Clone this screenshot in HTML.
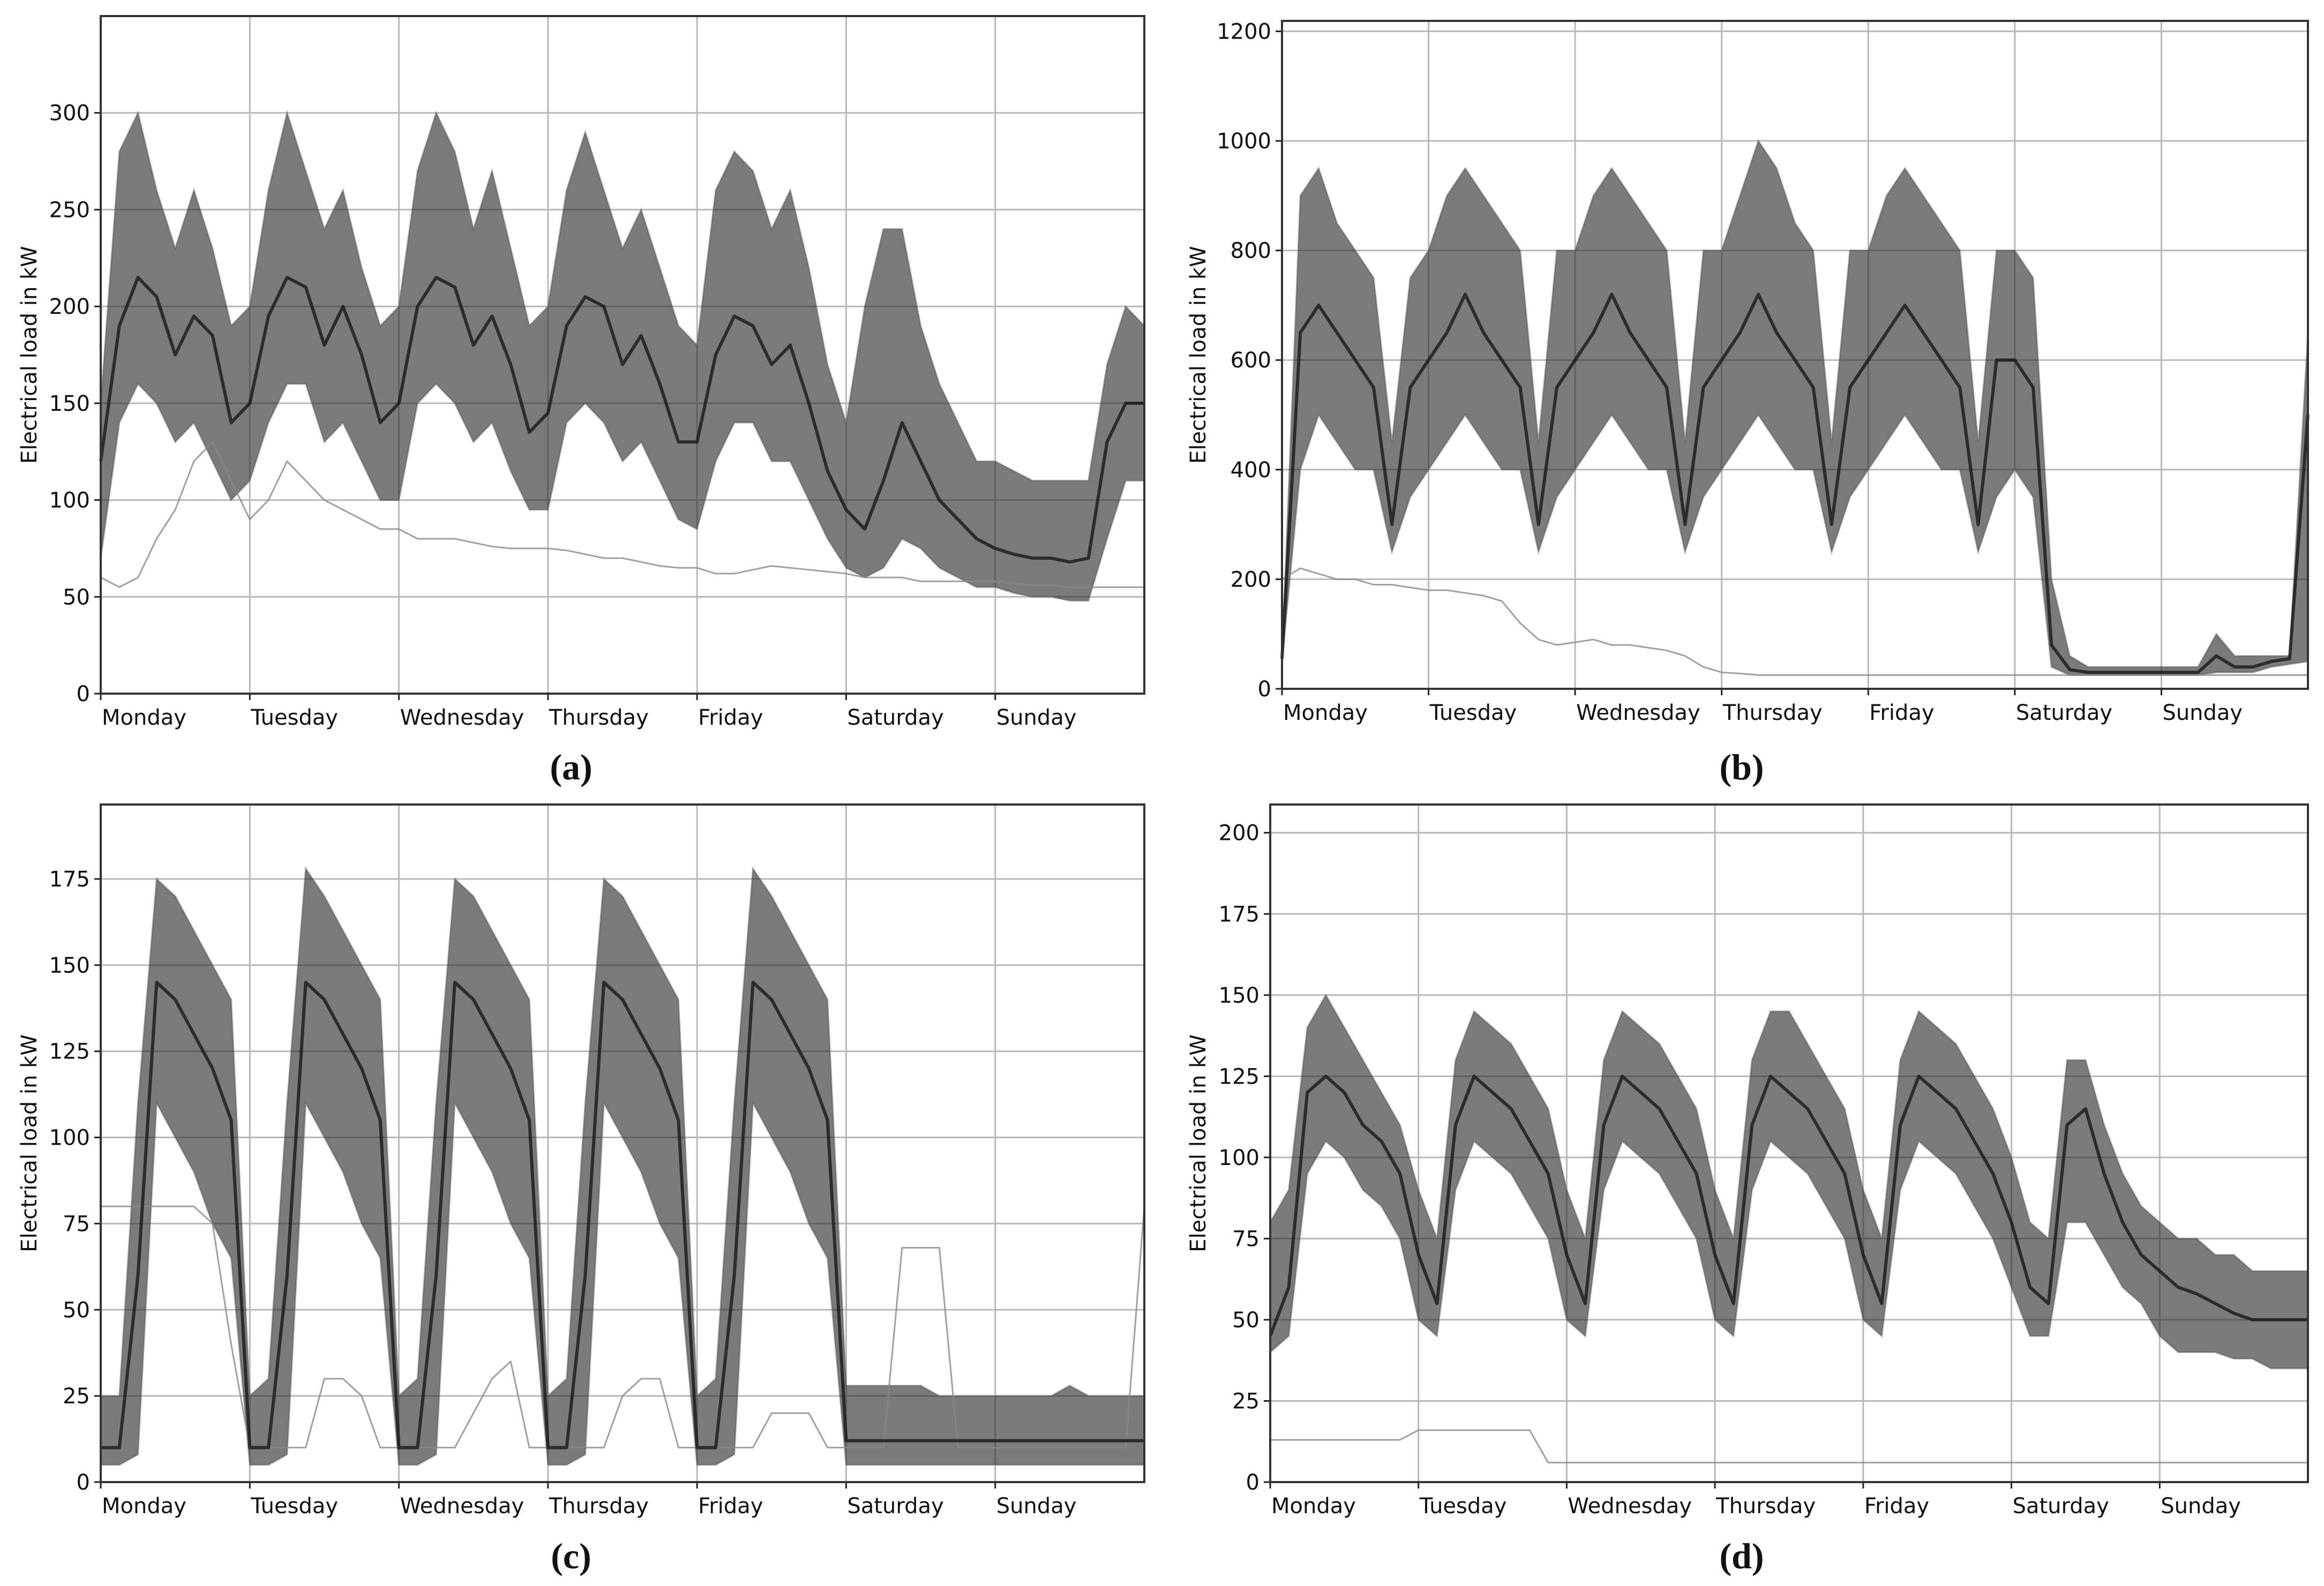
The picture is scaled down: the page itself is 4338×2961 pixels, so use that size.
<!DOCTYPE html>
<html><head><meta charset="utf-8">
<style>
html,body{margin:0;padding:0;background:#fff;}
svg{display:block;}
text{font-family:"DejaVu Sans","Liberation Sans",sans-serif;fill:#111;}
.plabel{font-family:"Liberation Serif",serif;font-weight:bold;font-size:68px;}
</style></head>
<body>
<svg id="fig" width="4338" height="2961" viewBox="0 0 4338 2961" xmlns="http://www.w3.org/2000/svg"></svg>
<script>
// Shared categories
const days = ["Monday","Tuesday","Wednesday","Thursday","Friday","Saturday","Sunday"];
// Samples every 3 hours (8 per day) + final point at day 7
// Panel (a)
const aTicks = [0,50,100,150,200,250,300];
const aMean  = [120,190,215,205,175,195,185,140, 150,195,215,210,180,200,175,140, 150,200,215,210,180,195,170,135, 145,190,205,200,170,185,160,130, 130,175,195,190,170,180,150,115, 95,85,110,140,120,100,90,80, 75,72,70,70,68,70,130,150, 150];
const aUpper = [150,280,300,260,230,260,230,190, 200,260,300,270,240,260,220,190, 200,270,300,280,240,270,230,190, 200,260,290,260,230,250,220,190, 180,260,280,270,240,260,220,170, 140,200,240,240,190,160,140,120, 120,115,110,110,110,110,170,200, 190];
const aLower = [70,140,160,150,130,140,120,100, 110,140,160,160,130,140,120,100, 100,150,160,150,130,140,115,95, 95,140,150,140,120,130,110,90, 85,120,140,140,120,120,100,80, 65,60,65,80,75,65,60,55, 55,52,50,50,48,48,80,110, 110];
const aOut   = [60,55,60,80,95,120,130,110, 90,100,120,110,100,95,90,85, 85,80,80,80,78,76,75,75, 75,74,72,70,70,68,66,65, 65,62,62,64,66,65,64,63, 62,60,60,60,58,58,58,58, 58,57,56,56,55,55,55,55, 55];
// Panel (b)
const bTicks = [0,200,400,600,800,1000,1200];
const bMean  = [55,650,700,650,600,550,300,550, 600,650,720,650,600,550,300,550, 600,650,720,650,600,550,300,550, 600,650,720,650,600,550,300,550, 600,650,700,650,600,550,300,600, 600,550,80,35,30,30,30,30, 30,30,30,60,40,40,50,55, 500];
const bUpper = [60,900,950,850,800,750,450,750, 800,900,950,900,850,800,450,800, 800,900,950,900,850,800,450,800, 800,900,1000,950,850,800,450,800, 800,900,950,900,850,800,450,800, 800,750,200,60,40,40,40,40, 40,40,40,100,60,60,60,60, 650];
const bLower = [50,400,500,450,400,400,250,350, 400,450,500,450,400,400,250,350, 400,450,500,450,400,400,250,350, 400,450,500,450,400,400,250,350, 400,450,500,450,400,400,250,350, 400,350,40,25,25,25,25,25, 25,25,25,30,30,30,40,45, 50];
const bOut   = [200,220,210,200,200,190,190,185, 180,180,175,170,160,120,90,80, 85,90,80,80,75,70,60,40, 30,28,25,25,25,25,25,25, 25,25,25,25,25,25,25,25, 25,25,25,25,25,25,25,25, 25,25,25,25,25,25,25,25, 25];
// Panel (c)
const cTicks = [0,25,50,75,100,125,150,175];
const cMean  = [10,10,60,145,140,130,120,105, 10,10,60,145,140,130,120,105, 10,10,60,145,140,130,120,105, 10,10,60,145,140,130,120,105, 10,10,60,145,140,130,120,105, 12,12,12,12,12,12,12,12, 12,12,12,12,12,12,12,12, 12];
const cUpper = [25,25,110,175,170,160,150,140, 25,30,110,178,170,160,150,140, 25,30,110,175,170,160,150,140, 25,30,110,175,170,160,150,140, 25,30,110,178,170,160,150,140, 28,28,28,28,28,25,25,25, 25,25,25,25,28,25,25,25, 25];
const cLower = [5,5,8,110,100,90,75,65, 5,5,8,110,100,90,75,65, 5,5,8,110,100,90,75,65, 5,5,8,110,100,90,75,65, 5,5,8,110,100,90,75,65, 5,5,5,5,5,5,5,5, 5,5,5,5,5,5,5,5, 5];
const cOut   = [80,80,80,80,80,80,75,40, 10,10,10,10,30,30,25,10, 10,10,10,10,20,30,35,10, 10,10,10,10,25,30,30,10, 10,10,10,10,20,20,20,10, 10,10,10,68,68,68,10,10, 10,10,10,10,10,10,10,10, 80];
// Panel (d)
const dTicks = [0,25,50,75,100,125,150,175,200];
const dMean  = [45,60,120,125,120,110,105,95, 70,55,110,125,120,115,105,95, 70,55,110,125,120,115,105,95, 70,55,110,125,120,115,105,95, 70,55,110,125,120,115,105,95, 80,60,55,110,115,95,80,70, 65,60,58,55,52,50,50,50, 50];
const dUpper = [80,90,140,150,140,130,120,110, 90,75,130,145,140,135,125,115, 90,75,130,145,140,135,125,115, 90,75,130,145,145,135,125,115, 90,75,130,145,140,135,125,115, 100,80,75,130,130,110,95,85, 80,75,75,70,70,65,65,65, 65];
const dLower = [40,45,95,105,100,90,85,75, 50,45,90,105,100,95,85,75, 50,45,90,105,100,95,85,75, 50,45,90,105,100,95,85,75, 50,45,90,105,100,95,85,75, 60,45,45,80,80,70,60,55, 45,40,40,40,38,38,35,35, 35];
const dOut   = [13,13,13,13,13,13,13,13, 16,16,16,16,16,16,16,6, 6,6,6,6,6,6,6,6, 6,6,6,6,6,6,6,6, 6,6,6,6,6,6,6,6, 6,6,6,6,6,6,6,6, 6,6,6,6,6,6,6,6, 6];

const NS = "http://www.w3.org/2000/svg";
const svg = document.getElementById('fig');
function el(tag, attrs, parent){
  const e = document.createElementNS(NS, tag);
  for (const k in attrs) e.setAttribute(k, attrs[k]);
  (parent||svg).appendChild(e);
  return e;
}

function panel(cfg){
  const g = el('g', {});
  
  
  const xs = t => cfg.L + (cfg.R - cfg.L) * t / 7;
  const ys = v => cfg.B - (cfg.B - cfg.T) * v / cfg.ymax;
  const n = cfg.mean.length;
  const tAt = i => 7 * i / (n - 1);
  for (let d = 0; d < 7; d++) {
    const gl = el('line', {x1:xs(d), x2:xs(d), y1:cfg.T, y2:cfg.B, stroke:'#b8b8b8', 'stroke-width':3}, g);
    
    
    const tk = el('line', {x1:xs(d), x2:xs(d), y1:cfg.B, y2:cfg.B+12, stroke:'#222', 'stroke-width':3}, g);
    
    
    const tl = el('text', {x:xs(d)+2, y:cfg.B+58, 'font-size':40}, g);
    tl.textContent = days[d];
    
    
  }
  cfg.ticks.forEach(v => {
    const gl = el('line', {x1:cfg.L, x2:cfg.R, y1:ys(v), y2:ys(v), stroke:'#b8b8b8', 'stroke-width':3}, g);
    
    
    const tk = el('line', {x1:cfg.L-12, x2:cfg.L, y1:ys(v), y2:ys(v), stroke:'#222', 'stroke-width':3}, g);
    
    
    const tl = el('text', {x:cfg.L-20, y:ys(v)+14, 'font-size':40, 'text-anchor':'end'}, g);
    tl.textContent = v;
    
    
  });
  let pts = [];
  for (let i = 0; i < n; i++) pts.push(xs(tAt(i)) + ',' + ys(cfg.upper[i]));
  for (let i = n - 1; i >= 0; i--) pts.push(xs(tAt(i)) + ',' + ys(cfg.lower[i]));
  const band = el('polygon', {points:pts.join(' '), fill:'#2a2a2a', 'fill-opacity':0.62, stroke:'#555', 'stroke-opacity':0.5, 'stroke-width':3}, g);
  
  
  function line(arr, stroke, w, op, name){
    const p = arr.map((v,i) => xs(tAt(i)) + ',' + ys(v)).join(' ');
    const pl = el('polyline', {points:p, fill:'none', stroke:stroke, 'stroke-width':w, 'stroke-opacity':op, 'stroke-linejoin':'round'}, g);
    
    
  }
  line(cfg.out, '#888', 3, 0.8, 'outlier-load-line');
  line(cfg.mean, '#111', 6, 0.75, 'mean-load-line');
  const fr = el('rect', {x:cfg.L, y:cfg.T, width:cfg.R-cfg.L, height:cfg.B-cfg.T, fill:'none', stroke:'#333', 'stroke-width':4}, g);
  
  
  const yt = el('text', {x:0, y:0, 'font-size':40, 'text-anchor':'middle', transform:'translate('+cfg.yTitleX+','+((cfg.T+cfg.B)/2)+') rotate(-90)'}, g);
  yt.textContent = 'Electrical load in kW';
  
  
  const pl = el('text', {x:cfg.labelX, y:cfg.labelY, 'text-anchor':'middle', class:'plabel'}, g);
  pl.textContent = cfg.label;
  
  
}

panel({name:'panel-a', L:188, R:2136, T:30, B:1295, ymax:350, ticks:aTicks, mean:aMean, upper:aUpper, lower:aLower, out:aOut, yTitleX:68, label:'(a)', labelX:1066, labelY:1455});
panel({name:'panel-b', L:2393, R:4308, T:39, B:1286, ymax:1219, ticks:bTicks, mean:bMean, upper:bUpper, lower:bLower, out:bOut, yTitleX:2250, label:'(b)', labelX:3251, labelY:1455});
panel({name:'panel-c', L:188, R:2136, T:1502, B:2767, ymax:196.6, ticks:cTicks, mean:cMean, upper:cUpper, lower:cLower, out:cOut, yTitleX:68, label:'(c)', labelX:1066, labelY:2928});
panel({name:'panel-d', L:2371, R:4308, T:1502, B:2767, ymax:208.7, ticks:dTicks, mean:dMean, upper:dUpper, lower:dLower, out:dOut, yTitleX:2250, label:'(d)', labelX:3251, labelY:2928});
</script>
</body></html>
